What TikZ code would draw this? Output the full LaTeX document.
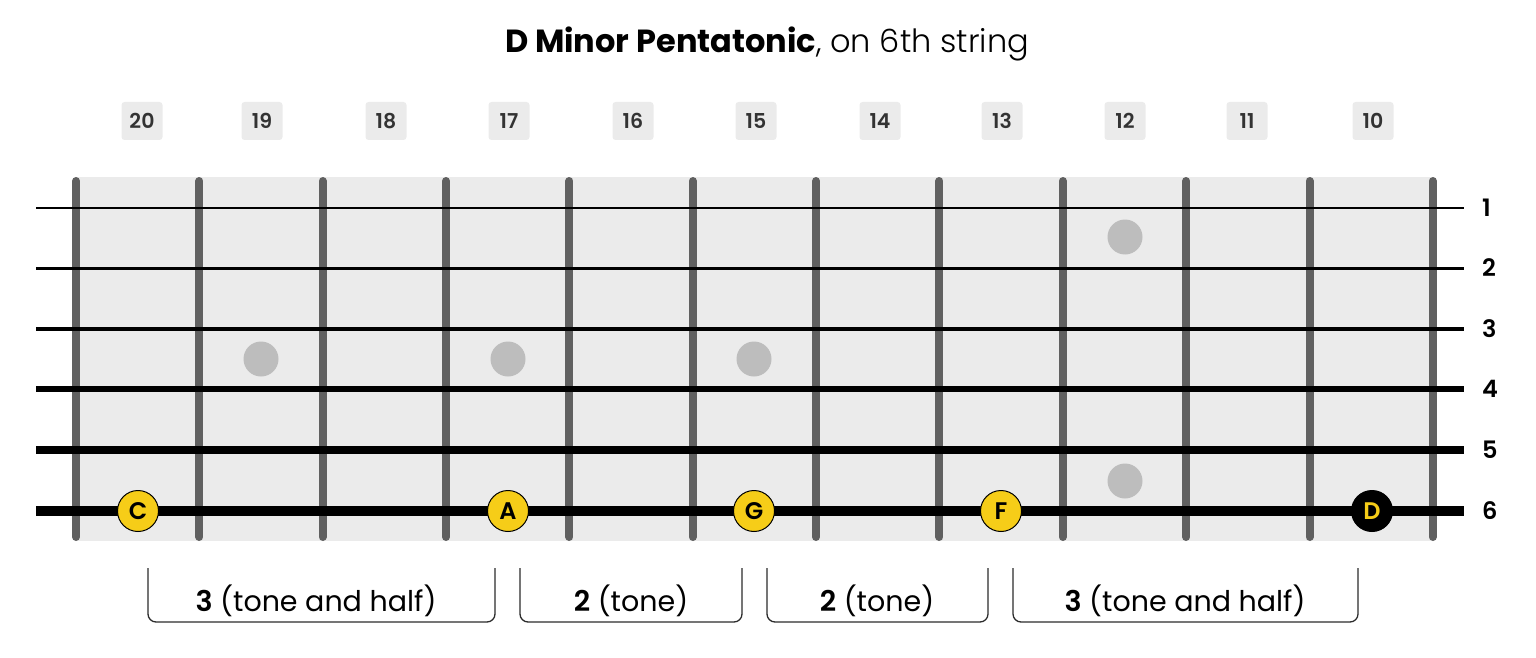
\documentclass[tikz,border=0pt]{standalone}
\usepackage{fontspec}
\setmainfont{Poppins}
\newfontfamily\poplight{Poppins Light}
\newfontfamily\popsemi{Poppins SemiBold}
\definecolor{fretc}{HTML}{606060}
\definecolor{boardc}{HTML}{EBEBEB}
\definecolor{dotc}{HTML}{BDBDBD}
\definecolor{notec}{HTML}{F6CD18}
\definecolor{numc}{HTML}{333333}
\definecolor{brkc}{HTML}{2B2B2B}
\begin{document}
\begin{tikzpicture}[x=1pt,y=-1pt,
  fretline/.style={draw=fretc,line width=8pt,line cap=round},
  stringline/.style={draw=black},
  fretnum/.style={fill=boardc,rounded corners=3pt,minimum width=41pt,minimum height=38pt,inner sep=0pt,text=numc,font=\fontsize{20.5}{22}\selectfont\popsemi},
  strnum/.style={font=\fontsize{24}{26}\selectfont\popsemi,text=black,inner sep=0pt,anchor=west},
  inlay/.style={circle,fill=dotc,minimum size=35pt,inner sep=0pt},
  notedot/.style={circle,fill=notec,draw=black,line width=1pt,minimum size=41pt,inner sep=0pt,font=\fontsize{24}{26}\selectfont\popsemi},
  rootdot/.style={circle,fill=black,draw=black,line width=1pt,minimum size=41pt,inner sep=0pt,text=notec,font=\fontsize{24}{26}\selectfont\popsemi},
  brk/.style={draw=brkc,line width=1.3pt,rounded corners=8pt},
  brklabel/.style={font=\fontsize{28.5}{30}\selectfont,text=black,inner sep=0pt}
]
\useasboundingbox (0,0) rectangle (1536,658);
% title
\node[font=\fontsize{32}{35}\selectfont,text=black] (title) at (767,44) {{\bfseries D Minor Pentatonic}{\poplight, on 6th string}};
% board
\fill[boardc] (76,177) rectangle (1433,541);
% frets
\foreach \i in {0,...,11}
  \draw[fretline] ({76+123.35*\i},181) -- ({76+123.35*\i},537);
% fret numbers
\foreach \x/\n in {142/20,262/19,386/18,509/17,633/16,756/15,880/14,1002/13,1125/12,1247/11,1373/10}
  \node[fretnum] (fn\n) at (\x,121) {\n};
% inlays
\node[inlay] (in12a) at (1125,237) {};
\node[inlay] (in12b) at (1125,481) {};
\node[inlay] (in19) at (261,359) {};
\node[inlay] (in17) at (508,359) {};
\node[inlay] (in15) at (754,359) {};
% strings
\foreach \y/\w/\n in {208/1.5/1,268/3/2,329/4.5/3,389/6.5/4,450/8.5/5,511/10.5/6}{
  \draw[stringline,line width=\w pt] (36,\y) -- (1464,\y);
  \node[strnum] (sn\n) at (1482,\y) {\n};
}
% notes
\node[notedot] (nC) at (138,511) {C};
\node[notedot] (nA) at (508,511) {A};
\node[notedot] (nG) at (754,511) {G};
\node[notedot] (nF) at (1001,511) {F};
\node[rootdot] (nD) at (1372,511) {D};
% brackets
\draw[brk] (148,568) -- (148,622) -- (495,622) -- (495,568);
\draw[brk] (520,568) -- (520,622) -- (742,622) -- (742,568);
\draw[brk] (767,568) -- (767,622) -- (988,622) -- (988,568);
\draw[brk] (1013,568) -- (1013,622) -- (1358,622) -- (1358,568);
\node[brklabel] (b1) at (316,601) {{\popsemi 3} (tone and half)};
\node[brklabel] (b2) at (631,601) {{\popsemi 2} (tone)};
\node[brklabel] (b3) at (877,601) {{\popsemi 2} (tone)};
\node[brklabel] (b4) at (1185,601) {{\popsemi 3} (tone and half)};
\end{tikzpicture}
\end{document}
